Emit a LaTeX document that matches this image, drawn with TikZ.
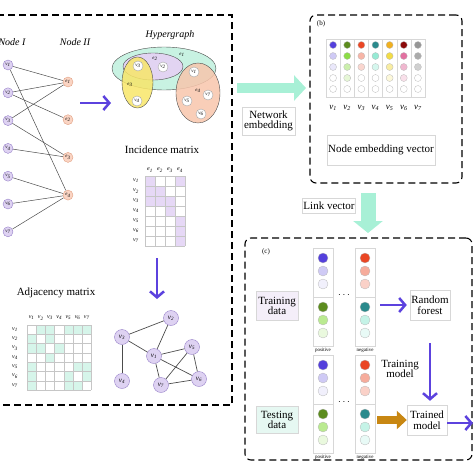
\documentclass[tikz,border=0pt]{standalone}
\usepackage{fontspec}
\setmainfont{Liberation Serif}
\usetikzlibrary{arrows.meta,shapes.geometric,positioning}

\definecolor{lav}{RGB}{222,210,242}
\definecolor{lavline}{RGB}{150,128,200}
\definecolor{peach}{RGB}{250,212,195}
\definecolor{peachline}{RGB}{225,160,130}
\definecolor{mint}{RGB}{200,242,226}
\definecolor{hlav}{RGB}{226,212,242}
\definecolor{hyel}{RGB}{248,230,105}
\definecolor{hora}{RGB}{248,198,172}
\definecolor{mintarrow}{RGB}{168,240,214}
\definecolor{arrblue}{RGB}{92,66,222}
\definecolor{gold}{RGB}{200,135,18}
\definecolor{boxline}{RGB}{215,215,215}
\definecolor{incfill}{RGB}{230,216,246}
\definecolor{adjfill}{RGB}{214,245,234}
\definecolor{trainfill}{RGB}{244,238,249}
\definecolor{testfill}{RGB}{230,248,242}
\definecolor{ub}{RGB}{84,64,220}
\definecolor{ug}{RGB}{92,140,30}
\definecolor{ugl}{RGB}{140,220,70}
\definecolor{ur}{RGB}{234,70,36}
\definecolor{ut}{RGB}{42,138,140}
\definecolor{ua}{RGB}{150,234,212}
\definecolor{uy}{RGB}{240,176,32}
\definecolor{uyl}{RGB}{242,220,70}
\definecolor{ud}{RGB}{140,10,10}
\definecolor{upk}{RGB}{226,112,160}
\definecolor{ugr}{RGB}{150,150,150}

\newcommand{\vlab}[1]{\textit{v}\textsubscript{\textit{#1}}}
\newcommand{\elab}[1]{\textit{e}\textsubscript{\textit{#1}}}

\tikzset{
  panel/.style={draw, line width=1.1pt, dash pattern=on 7pt off 4pt, inner sep=0},
  bv/.style={circle, draw=lavline, fill=lav, minimum size=10pt, inner sep=0, font=\tiny},
  be/.style={circle, draw=peachline, fill=peach, minimum size=10pt, inner sep=0, font=\tiny},
  hv/.style={circle, draw=gray!70, fill=white, minimum size=10pt, inner sep=0, font=\tiny},
  gv/.style={circle, draw=lavline, fill=lav, minimum size=15pt, inner sep=0, font=\scriptsize},
  hedge/.style={ellipse, draw=gray!60!black, line width=0.4pt, inner sep=0},
  tbox/.style={draw=boxline, fill=white, align=center, inner sep=1pt},
  dot/.style={circle, draw=gray!55, line width=0.3pt, minimum size=7pt, inner sep=0},
  bigdot/.style={dot, minimum size=10pt},
  vcol/.style={draw=boxline, minimum width=20pt, minimum height=49pt, inner sep=0},
  link/.style={draw=gray!60!black, line width=0.5pt},
  gridline/.style={draw=gray!45, line width=0.3pt},
  mlab/.style={font=\fontsize{6}{7}\selectfont, inner sep=0},
  blue arrow/.style={draw=arrblue, line width=2.5pt, -{Straight Barb[length=6pt,width=14pt]}},
}

\begin{document}
\begin{tikzpicture}[x=1pt,y=-1pt,font=\fontsize{11}{12.5}\selectfont]
\useasboundingbox (0,0) rectangle (474,474);

\node[panel, minimum width=240pt, minimum height=390pt] (pa) at (112,210) {};
\node[panel, rounded corners=6pt, minimum width=152pt, minimum height=168pt] (pb) at (386,99) {};
\node[panel, rounded corners=6pt, minimum width=227pt, minimum height=222pt] (pc) at (358.5,349) {};
\node[font=\scriptsize] (lb) at (321,24) {(b)};
\node[font=\scriptsize] (lc) at (266,252) {(c)};

% (a) bipartite graph
\node[font=\itshape] (n1) at (12,42) {Node I};
\node[font=\itshape] (n2) at (75,42) {Node II};
\foreach \i in {1,...,7}
  \node[bv] (bv\i) at (8,{65+27.8*(\i-1)}) {\vlab{\i}};
\foreach \j in {1,...,4}
  \node[be] (be\j) at (68,{82+37.7*(\j-1)}) {\elab{\j}};
\foreach \a/\b in {1/1,1/4,2/1,2/2,3/1,3/3,4/3,5/4,6/4,7/4}
  \draw[link] (bv\a) -- (be\b);

\coordinate (ba1) at (80,103);
\coordinate (ba2) at (111,103);
\draw[blue arrow] (ba1) -- (ba2);

% hypergraph
\node[font=\itshape] (hg) at (170,35) {Hypergraph};
\node[hedge, fill=mint, minimum width=104pt, minimum height=43pt] (h1) at (164,68.5) {};
\node[hedge, fill=hlav, minimum width=60pt, minimum height=27pt] (h2) at (153,66.5) {};
\node[hedge, fill=hyel, fill opacity=0.85, minimum width=31pt, minimum height=51pt] (h3) at (137.5,82.5) {};
\node[hedge, fill=hora, fill opacity=0.85, minimum width=44pt, minimum height=60pt] (h4) at (198,93) {};
\node[font=\tiny] (le1) at (182,55) {\elab{1}};
\node[font=\tiny] (le2) at (155,59) {\elab{2}};
\node[font=\tiny] (le3) at (130,85) {\elab{3}};
\node[font=\tiny] (le4) at (198,91) {\elab{4}};
\foreach \i/\x/\y in {1/194/72,2/163/67,3/138/66,4/137/101,5/187/101,6/201/114,7/208/95}
  \node[hv] (hv\i) at (\x,\y) {\vlab{\i}};

% incidence matrix
\node (inc) at (162,150) {Incidence matrix};
\foreach \r/\c in {1/1,1/4,2/1,2/2,3/1,3/2,3/3,4/3,5/4,6/4,7/4}
  \fill[incfill] ({145+10*(\c-1)},{176+10*(\r-1)}) rectangle ++(10,10);
\foreach \c in {0,...,4}
  \draw[gridline] ({145+10*\c},176) -- ++(0,70);
\foreach \r in {0,...,7}
  \draw[gridline] (145,{176+10*\r}) -- ++(40,0);
\foreach \c in {1,...,4}
  \node[mlab] (ic\c) at ({150+10*(\c-1)},170) {\elab{\c}};
\foreach \r in {1,...,7}
  \node[mlab] (ir\r) at (136,{181+10*(\r-1)}) {\vlab{\r}};

\coordinate (da1) at (157,258);
\coordinate (da2) at (157,299);
\draw[blue arrow] (da1) -- (da2);

% adjacency matrix
\node (adj) at (56,293) {Adjacency matrix};
\foreach \r/\c in {1/2,1/3,1/5,1/6,1/7,2/3,3/4,5/6,5/7,6/7} {
  \fill[adjfill] ({27+9.2*(\c-1)},{325+9.3*(\r-1)}) rectangle ++(9.2,9.3);
  \fill[adjfill] ({27+9.2*(\r-1)},{325+9.3*(\c-1)}) rectangle ++(9.2,9.3);
}
\foreach \c in {0,...,7}
  \draw[gridline] ({27+9.2*\c},325) -- ++(0,65.1);
\foreach \r in {0,...,7}
  \draw[gridline] (27,{325+9.3*\r}) -- ++(64.4,0);
\foreach \c in {1,...,7}
  \node[mlab] (ac\c) at ({31.6+9.2*(\c-1)},318) {\vlab{\c}};
\foreach \r in {1,...,7}
  \node[mlab] (ar\r) at (15,{329.6+9.3*(\r-1)}) {\vlab{\r}};

% graph
\foreach \i/\x/\y in {1/154/356,2/171/318,3/122/337,4/122/381,5/192/347,6/199/379,7/161/385}
  \node[gv] (gv\i) at (\x,\y) {\vlab{\i}};
\foreach \a/\b in {3/2,3/1,3/4,2/1,1/5,1/6,1/7,5/7,5/6,7/6}
  \draw[link, line width=0.7pt] (gv\a) -- (gv\b);

% network embedding
\coordinate (ne1) at (237,88);
\coordinate (ne2) at (306,88);
\draw[mintarrow, line width=10pt, -{Triangle[length=12pt,width=25pt]}] (ne1) -- (ne2);
\node[tbox, minimum width=53pt, minimum height=28pt] (nebox) at (268.5,121) {Network\\[-2pt]embedding};

% (b) embedding vectors
\node[draw=boxline, minimum width=99pt, minimum height=58pt, inner sep=0] (embgrid) at (375.5,68) {};
\foreach \c in {1,...,6}
  \draw[boxline, line width=0.4pt] ({326+14.14*\c},39) -- ++(0,58);
\foreach \a/\b/\c/\d [count=\i] in {ub/ub!28/ub!12/white, ug/ugl/ugl!45/ugl!22,
    ur/ur!40/ur!22/white, ut/ua/ua!40/white, uy/uyl/uyl!50/uyl!20,
    ud/upk/upk!50/upk!22, ugr/ugr!80/ugr!45/white} {
  \foreach \f [count=\j] in {\a,\b,\c,\d,white}
    \node[dot, fill=\f] (emb\i-\j) at ({333.07+14.14*(\i-1)},{45+11*(\j-1)}) {};
  \node[font=\small] (ev\i) at ({333.07+14.14*(\i-1)},108) {\vlab{\i}};
}
\node[tbox, minimum width=108pt, minimum height=30pt] (nev) at (381,150) {Node embedding vector};

% link vector
\coordinate (lv1) at (368,193);
\coordinate (lv2) at (368,233);
\draw[mintarrow, line width=15pt, -{Triangle[length=12pt,width=29pt]}] (lv1) -- (lv2);
\node[tbox, minimum width=52pt, minimum height=15pt] (lvbox) at (329,206) {Link vector};

% (c) training and testing
\foreach \g/\t in {1/248,2/355} {
  \node[vcol] (pos\g-a) at (323,{\t+24.5}) {};
  \node[vcol] (pos\g-b) at (323,{\t+73.5}) {};
  \node[vcol] (neg\g-a) at (365,{\t+24.5}) {};
  \node[vcol] (neg\g-b) at (365,{\t+73.5}) {};
  \foreach \f [count=\k] in {ub,ub!28,ub!8}
    \node[bigdot, fill=\f] (pa\g\k) at (323,{\t+10+13*(\k-1)}) {};
  \foreach \f [count=\k] in {ug,ugl!60,ugl!18}
    \node[bigdot, fill=\f] (pb\g\k) at (323,{\t+59+13*(\k-1)}) {};
  \foreach \f [count=\k] in {ur,ur!45,ur!25}
    \node[bigdot, fill=\f] (na\g\k) at (365,{\t+10+13*(\k-1)}) {};
  \foreach \f [count=\k] in {ut,ua!55,ua!22}
    \node[bigdot, fill=\f] (nb\g\k) at (365,{\t+59+13*(\k-1)}) {};
  \node[font=\bfseries] (dots\g) at (344,{\t+47}) {$\cdots$};
  \node[font=\fontsize{5}{6}\selectfont] (pl\g) at (323,{\t+102}) {positive};
  \node[font=\fontsize{5}{6}\selectfont] (nl\g) at (365,{\t+102}) {negative};
}
\node[tbox, fill=trainfill, minimum width=42pt, minimum height=29pt] (train) at (277,306) {Training\\[-2pt]data};
\node[tbox, fill=testfill, minimum width=42pt, minimum height=27pt] (test) at (277,420) {Testing\\[-2pt]data};
\node[tbox, minimum width=40pt, minimum height=30pt] (rf) at (430,305) {Random\\[-2pt]forest};
\node[tbox, minimum width=40pt, minimum height=30pt] (tm) at (427,420) {Trained\\[-2pt]model};
\node[align=center] (tmod) at (400,369) {Training\\[-2pt]model};

\draw[blue arrow, shorten <=5pt, shorten >=3pt] (rf.west -| neg1-a.east) -- (rf.west);
\draw[blue arrow, shorten <=23pt, shorten >=4pt] (rf.south) -- (tm.north -| rf.south);
\draw[gold, line width=8pt, shorten <=2pt, -{Triangle[length=10pt,width=18pt]}] (tm.west -| neg2-b.east) -- (tm.west);
\coordinate (out) at (473,423);
\draw[blue arrow] (tm.east |- out) -- (out);
\end{tikzpicture}
\end{document}
